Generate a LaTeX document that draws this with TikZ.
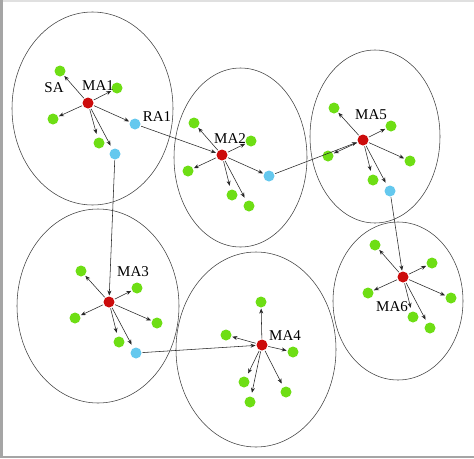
\documentclass[tikz,border=0pt]{standalone}
\usepackage{fontspec}
\setmainfont{Liberation Serif}
\usetikzlibrary{arrows.meta}
\definecolor{agreen}{RGB}{110,222,20}
\definecolor{ared}{RGB}{204,12,12}
\definecolor{ablue}{RGB}{100,200,238}
\definecolor{frameg}{RGB}{165,165,165}
\tikzset{
  cell/.style={draw=black!75,line width=0.55pt},
  sa/.style={circle,fill=agreen,minimum size=11pt,inner sep=0pt,outer sep=1pt},
  ma/.style={circle,fill=ared,minimum size=11pt,inner sep=0pt,outer sep=1pt},
  ra/.style={circle,fill=ablue,minimum size=11pt,inner sep=0pt,outer sep=1pt},
  lbl/.style={font=\fontsize{15}{16}\selectfont,inner sep=0pt},
  link/.style={draw=black!85,line width=0.55pt,-{Stealth[length=5pt,width=4pt]}},
  far/.style={shorten >=3pt}
}
\begin{document}
\begin{tikzpicture}[x=1pt,y=-1pt]
\useasboundingbox (0,0) rectangle (474,458);
\fill[white] (0,0) rectangle (474,458);
% frame
\fill[black!12] (0,0) rectangle (474,2);
\fill[frameg] (0,0) rectangle (2.5,458);
\fill[frameg] (0,455.5) rectangle (474,458);

% cells
\draw[cell] (92.5,108.5) ellipse [x radius=80.5,y radius=96.5];
\draw[cell] (240.5,157.5) ellipse [x radius=66.5,y radius=89.5];
\draw[cell] (375,136.5) ellipse [x radius=65,y radius=86.5];
\draw[cell] (398,301) ellipse [x radius=65,y radius=79];
\draw[cell] (98,306) ellipse [x radius=81,y radius=97];
\draw[cell] (256,349.5) ellipse [x radius=80,y radius=97.5];

% cluster 1
\node[ma] (m1) at (88,103) {};
\node[sa] (s11) at (60,71) {};
\node[sa] (s12) at (117,88) {};
\node[sa] (s13) at (53,119) {};
\node[sa] (s14) at (99,143) {};
\node[ra] (r11) at (135,124) {};
\node[ra] (r12) at (115,154) {};
\node[lbl] (tsa) at (54,88) {SA};
\node[lbl] (tm1) at (98,86) {MA1};
\node[lbl] (tr1) at (157,117) {RA1};

% cluster 2
\node[ma] (m2) at (222,155) {};
\node[sa] (s21) at (194,123) {};
\node[sa] (s22) at (251,141) {};
\node[sa] (s23) at (188,171) {};
\node[sa] (s24) at (232,195) {};
\node[sa] (s25) at (249,206) {};
\node[ra] (r2) at (269,176) {};
\node[lbl] (tm2) at (230,139) {MA2};

% cluster 5
\node[ma] (m5) at (363,140) {};
\node[sa] (s51) at (334,108) {};
\node[sa] (s52) at (391,126) {};
\node[sa] (s53) at (410,161) {};
\node[sa] (s54) at (373,180) {};
\node[sa] (s55) at (328,156) {};
\node[ra] (r5) at (390,191) {};
\node[lbl] (tm5) at (371,115) {MA5};

% cluster 6
\node[ma] (m6) at (403,277) {};
\node[sa] (s61) at (375,245) {};
\node[sa] (s62) at (432,263) {};
\node[sa] (s63) at (368,293) {};
\node[sa] (s64) at (451,298) {};
\node[sa] (s65) at (413,317) {};
\node[sa] (s66) at (430,328) {};
\node[lbl] (tm6) at (392,307) {MA6};

% cluster 3
\node[ma] (m3) at (109,302) {};
\node[sa] (s31) at (81,271) {};
\node[sa] (s32) at (137,288) {};
\node[sa] (s33) at (75,318) {};
\node[sa] (s34) at (157,323) {};
\node[sa] (s35) at (119,342) {};
\node[ra] (r3) at (136,353) {};
\node[lbl] (tm3) at (133,272) {MA3};

% cluster 4
\node[ma] (m4) at (262,345) {};
\node[sa] (s41) at (261,302) {};
\node[sa] (s42) at (226,335) {};
\node[sa] (s43) at (293,352) {};
\node[sa] (s44) at (244,382) {};
\node[sa] (s45) at (250,402) {};
\node[sa] (s46) at (286,392) {};
\node[lbl] (tm4) at (285,336) {MA4};

% links
\foreach \a/\b in {m1/s11,m1/s12,m1/s13,m1/r11,
                   m2/s21,m2/s22,m2/s23,m2/r2,
                   m5/s51,m5/s52,m5/s53,m5/s55,
                   m6/s61,m6/s62,m6/s63,m6/s64,
                   m3/s31,m3/s32,m3/s33,m3/s34,
                   m4/s41,m4/s42,m4/s43,
                   r11/m2,r12/m3,r2/m5,r5/m6,r3/m4}
  \draw[link] (\a) -- (\b);
\foreach \a/\b in {m1/s14,m1/r12,m2/s24,m2/s25,m5/s54,m5/r5,
                   m6/s65,m6/s66,m3/s35,m3/r3,m4/s44,m4/s45,m4/s46}
  \draw[link,far] (\a) -- (\b);
\end{tikzpicture}
\end{document}
